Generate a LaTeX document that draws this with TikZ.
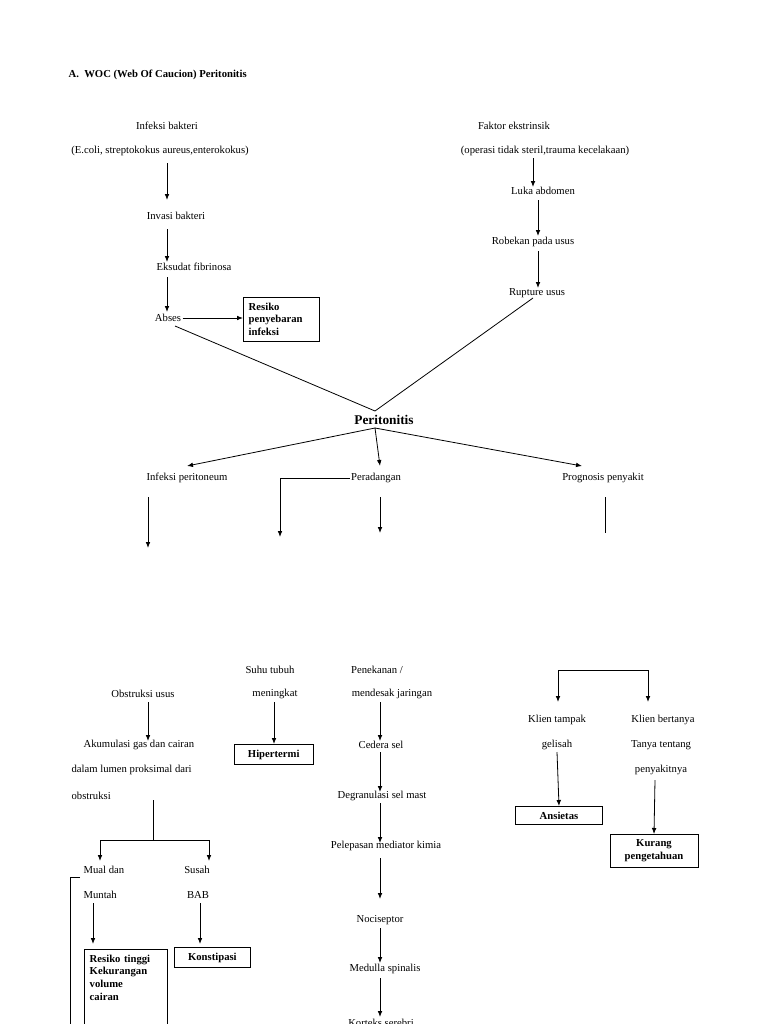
\documentclass[tikz,border=0pt]{standalone}
\usepackage{fontspec}
\setmainfont{Liberation Serif}
\usetikzlibrary{arrows.meta}
\tikzset{
    x=0.75pt, y=-0.75pt,
    every node/.style={font=\fontsize{8}{9}\selectfont, inner sep=1pt}, % plain labels
    arr/.style={-{Latex[length=4.5pt,width=3.5pt]}, line width=0.6pt}, % arrows
    ln/.style={line width=0.6pt},
    box/.style={draw, line width=0.6pt, font=\fontsize{8}{9.5}\selectfont\bfseries, align=left, anchor=north west, inner sep=4pt},
}
\begin{document}
\begin{tikzpicture}
\useasboundingbox (0,0) rectangle (768,1024);
% top
\node[anchor=west, font=\fontsize{8}{9}\selectfont\bfseries] (title) at (67,75) {A.\ \ WOC (Web Of Caucion) Peritonitis};
\node (ib) at (167,126) {Infeksi bakteri};
\node (ecoli) at (160,151) {(E.coli, streptokokus aureus,enterokokus)};
\node (inv) at (176,216) {Invasi bakteri};
\node (eks) at (194,267) {Eksudat fibrinosa};
\node (abs) at (168,318) {Abses};
\node[box, text width=49pt] (rpi) at (243,297) {Resiko\\penyebaran\\infeksi};
\node (fe) at (514,126) {Faktor ekstrinsik};
\node (oper) at (545,151) {(operasi tidak steril,trauma kecelakaan)};
\node (luka) at (543,191) {Luka abdomen};
\node (rob) at (533,242) {Robekan pada usus};
\node (rup) at (537,293) {Rupture usus};
\node[font=\fontsize{10}{11}\selectfont\bfseries] (per) at (384,420) {Peritonitis};
\coordinate (pc) at (375,411);
\coordinate (pb) at (375,428);
\node (inp) at (187,478) {Infeksi peritoneum};
\node (rad) at (376,478) {Peradangan};
\node (prog) at (603,478) {Prognosis penyakit};
\draw[arr] (167,163) -- (167,200);
\draw[arr] (167,229) -- (167,262);
\draw[arr] (167,277) -- (167,312);
\draw[arr] (abs.east) -- (rpi.west|-abs.east);
\draw[arr] (533,158) -- (533,187);
\draw[arr] (538,200) -- (538,236);
\draw[arr] (538,251) -- (538,288);
\draw[ln] (175,326) -- (pc) -- (533,298);
\draw[arr] (pb) -- (187,466);
\draw[arr] (pb) -- (380,466);
\draw[arr] (pb) -- (582,466);
% middle
\draw[arr] (148,497) -- (148,548);
\draw[arr] (rad.west) -| (280,537);
\draw[arr] (380,497) -- (380,533);
\draw[ln] (605,497) -- (605,533);
% bottom left
\node (obs) at (143,694) {Obstruksi usus};
\node[anchor=west] (aku) at (82,745) {Akumulasi gas dan cairan};
\node[anchor=west] (dal) at (70,770) {dalam lumen proksimal dari};
\node[anchor=west] (obs2) at (70,796) {obstruksi};
\draw[arr] (148,702) -- (148,741);
\draw[ln] (153,800) -- (153,840);
\draw[ln] (100,840) -- (209,840);
\draw[arr] (100,840) -- (100,861);
\draw[arr] (209,840) -- (209,861);
\node[anchor=west] (mual) at (82,870) {Mual dan};
\node[anchor=west] (munt) at (82,895) {Muntah};
\node (sus) at (197,870) {Susah};
\node (bab) at (198,895) {BAB};
\draw[arr] (93,903) -- (93,944);
\draw[arr] (200,903) -- (200,944);
\node[box, text width=54pt] (rtk) at (84,949) {Resiko tinggi\\Kekurangan\\volume\\cairan\\\mbox{}\\\mbox{}};
\node[box, minimum width=57pt] (kons) at (174,947) {Konstipasi};
\draw[ln] (80,877) -- (70,877) -- (70,1030);
% suhu
\node (suhu) at (270,670) {Suhu tubuh};
\node (men) at (275,694) {meningkat};
\node[box, minimum width=59pt] (hip) at (234,744) {Hipertermi};
\draw[arr] (274,702) -- (274,744);
% nyeri
\node (pen) at (377,670) {Penekanan /};
\node (mdj) at (392,694) {mendesak jaringan};
\node (ced) at (381,745) {Cedera sel};
\node (deg) at (382,796) {Degranulasi sel mast};
\node (pel) at (386,846) {Pelepasan mediator kimia};
\node (noc) at (380,920) {Nociseptor};
\node (med) at (385,969) {Medulla spinalis};
\node (kor) at (381,1023) {Korteks serebri};
\draw[arr] (380,702) -- (380,741);
\draw[arr] (380,752) -- (380,792);
\draw[arr] (380,803) -- (380,843);
\draw[arr] (380,858) -- (380,899);
\draw[arr] (380,928) -- (380,963);
\draw[arr] (380,978) -- (380,1017);
% right
\draw[ln] (558,670) -- (648,670);
\draw[arr] (558,670) -- (558,702);
\draw[arr] (648,670) -- (648,702);
\node (kt) at (557,720) {Klien tampak};
\node (gel) at (557,745) {gelisah};
\node (kb) at (663,720) {Klien bertanya};
\node (tt) at (661,745) {Tanya tentang};
\node (pny) at (661,770) {penyakitnya};
\node[box, minimum width=65pt, align=center, anchor=north] (ans) at (559,806) {Ansietas};
\node[box, text width=58pt, align=center, anchor=north] (kp) at (654,834) {Kurang\\pengetahuan};
\draw[arr] (557,752) -- (ans.north);
\draw[arr] (655,780) -- (kp.north);
\end{tikzpicture}
\end{document}
